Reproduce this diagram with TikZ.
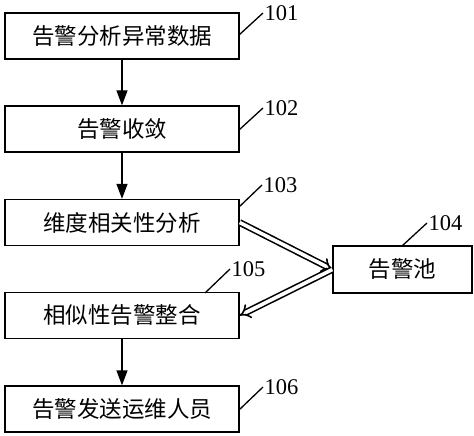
\documentclass[tikz,border=0pt]{standalone}
\usepackage{fontspec}
\setmainfont{Liberation Serif}
\newfontfamily\cjk{Noto Sans CJK SC}
\usetikzlibrary{arrows.meta}
\begin{document}
\begin{tikzpicture}[x=1pt,y=-1pt,
  stepbox/.style={draw,line width=1.3pt,minimum width=234pt,minimum height=46pt,inner sep=0pt,font=\cjk\fontsize{22.5}{22.5}\selectfont},
  flow/.style={line width=1.3pt,-{Triangle[length=15pt,width=11pt]}},
  dbl/.style={double,double distance=3.6pt,line width=1.6pt,-{Implies[length=11pt]}},
  lead/.style={line width=1.3pt},
  num/.style={font=\fontsize{22.5}{22.5}\selectfont,inner sep=1pt,anchor=west}]
\useasboundingbox (0,0) rectangle (474,436);
\node[stepbox] (b1) at (122,36) {告警分析异常数据};
\node[stepbox] (b2) at (122,129) {告警收敛};
\node[stepbox] (b3) at (122,222.5) {维度相关性分析};
\node[stepbox,minimum width=139pt,minimum height=47pt] (b4) at (402.5,269.5) {告警池};
\node[stepbox] (b5) at (122,315.5) {相似性告警整合};
\node[stepbox] (b6) at (122,409) {告警发送运维人员};
\draw[flow] (b1) -- (b2);
\draw[flow] (b2) -- (b3);
\draw[flow] (b5) -- (b6);
\draw[dbl] (b3.east) -- (b4.west);
\draw[dbl] (b4.west) -- (b5.east);
\draw[lead] (239,35) -- (263,13) node[num] (n1) {101};
\draw[lead] (239,130) -- (263,108) node[num] (n2) {102};
\draw[lead] (239,207) -- (262,185) node[num] (n3) {103};
\draw[lead] (402,246) -- (427,223) node[num] (n4) {104};
\draw[lead] (205,293) -- (230,269) node[num] (n5) {105};
\draw[lead] (239,410) -- (263,387) node[num] (n6) {106};
\end{tikzpicture}
\end{document}
